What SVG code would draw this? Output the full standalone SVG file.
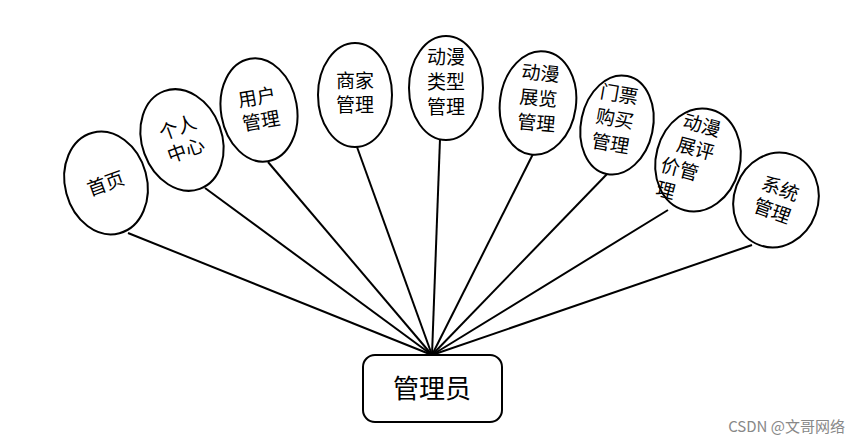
<svg xmlns="http://www.w3.org/2000/svg" width="861" height="445" viewBox="0 0 861 445">
<style>
.n ellipse{fill:#fff;stroke:#000;stroke-width:2}
.t{font-family:"Noto Sans CJK SC","Liberation Sans",sans-serif;font-size:19px;fill:#000;text-anchor:middle}
#edges line{stroke:#000;stroke-width:2}
</style>
<rect width="861" height="445" fill="#fff"/>
<g id="edges">
<line x1="432" y1="355" x2="128" y2="233"/>
<line x1="432" y1="355" x2="205" y2="188"/>
<line x1="432" y1="355" x2="268" y2="162"/>
<line x1="432" y1="355" x2="357" y2="147"/>
<line x1="432" y1="355" x2="440" y2="139"/>
<line x1="432" y1="355" x2="533" y2="154"/>
<line x1="432" y1="355" x2="608" y2="173"/>
<line x1="432" y1="355" x2="668" y2="210"/>
<line x1="432" y1="355" x2="752" y2="245"/>
</g>
<g id="n1" class="n"><ellipse cx="106" cy="183" rx="41" ry="52" transform="rotate(-15 106 183)"/><text class="t" transform="translate(108,190) rotate(-20)">首页</text></g>
<g id="n2" class="n"><ellipse cx="182" cy="140" rx="40" ry="52" transform="rotate(-20 182 140)"/><text class="t" transform="translate(180,134) rotate(-20)">个人<tspan x="0" dy="24">中心</tspan></text></g>
<g id="n3" class="n"><ellipse cx="259" cy="110" rx="38" ry="52" transform="rotate(-10 259 110)"/><text class="t" transform="translate(258,104) rotate(-10)">用户<tspan x="0" dy="24">管理</tspan></text></g>
<g id="n4" class="n"><ellipse cx="355" cy="95" rx="37" ry="52"/><text class="t" x="355" y="88">商家<tspan x="355" dy="24">管理</tspan></text></g>
<g id="n5" class="n"><ellipse cx="446" cy="88" rx="37" ry="52"/><text class="t" x="446" y="64">动漫<tspan x="446" dy="25">类型</tspan><tspan x="446" dy="25">管理</tspan></text></g>
<g id="n6" class="n"><ellipse cx="538" cy="103" rx="38" ry="52" transform="rotate(8 538 103)"/><text class="t" transform="translate(540,80) rotate(5)">动漫<tspan x="0" dy="25">展览</tspan><tspan x="0" dy="25">管理</tspan></text></g>
<g id="n7" class="n"><ellipse cx="617" cy="125" rx="36" ry="50" transform="rotate(12 617 125)"/><text class="t" transform="translate(618,101) rotate(10)">门票<tspan x="0" dy="25">购买</tspan><tspan x="0" dy="25">管理</tspan></text></g>
<g id="n8" class="n"><ellipse cx="698" cy="160" rx="42" ry="52" transform="rotate(15 698 160)"/><text class="t" transform="translate(700,132) rotate(15)">动漫<tspan x="0" dy="24">展评</tspan><tspan x="-10" dy="24">价管</tspan><tspan x="-18" dy="24">理</tspan></text></g>
<g id="n9" class="n"><ellipse cx="776" cy="200" rx="42" ry="48" transform="rotate(20 776 200)"/><text class="t" transform="translate(778,195) rotate(20)">系统<tspan x="0" dy="24">管理</tspan></text></g>
<g id="admin"><rect x="363" y="355" width="139" height="67" rx="12" fill="#fff" stroke="#000" stroke-width="2"/><text class="t" x="432" y="398" style="font-size:26px">管理员</text></g>
<text x="845" y="432" style="font-family:'Noto Sans CJK SC',sans-serif;font-size:15px;fill:#888;text-anchor:end">CSDN @文哥网络</text>
</svg>
